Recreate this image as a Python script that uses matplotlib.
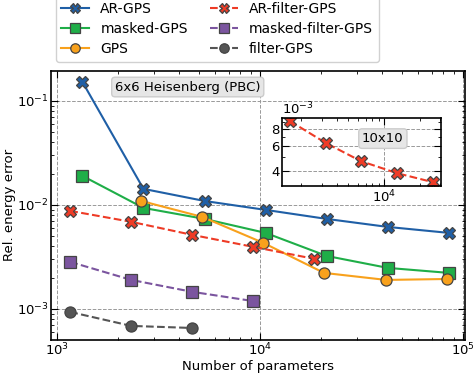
"""Relative energy error vs number of parameters, 6x6 Heisenberg with 10x10 inset"""
import matplotlib.pyplot as plt
from matplotlib.ticker import FixedLocator, NullFormatter

# main panel data
AR_X = [1330, 2660, 5320, 10640, 21280, 42560, 85120]
AR_Y = [0.152, 0.01425, 0.0109, 0.00895, 0.00733, 0.00614, 0.00538]
MASKED_X = [1330, 2660, 5320, 10640, 21280, 42560, 85120]
MASKED_Y = [0.0190, 0.00935, 0.00733, 0.00538, 0.00323, 0.00248, 0.00222]
GPS_X = [2594, 5176, 10350, 20650, 41800, 83400]
GPS_Y = [0.0109, 0.00767, 0.00432, 0.00222, 0.0019, 0.00194]
ARF_X = [1159, 2316, 4625, 9245, 18470]
ARF_Y = [0.00875, 0.00687, 0.00515, 0.00395, 0.00303]
MASKEDF_X = [1159, 2316, 4625, 9245]
MASKEDF_Y = [0.00283, 0.0019, 0.00146, 0.00119]
FILTER_X = [1159, 2316, 4625]
FILTER_Y = [0.000935, 0.000687, 0.000656]

# inset (10x10) data
INSET_X = [1611, 3245, 6400, 12870, 25880]
INSET_Y = [0.00906, 0.00631, 0.00469, 0.00385, 0.00332]

EDGE = '#444444'


def style_axes(ax):
    ax.set_xscale('log')
    ax.set_yscale('log')
    ax.tick_params(which='both', direction='in', top=True, right=True,
                   pad=1.5)
    ax.tick_params(which='major', length=5)
    ax.tick_params(which='minor', length=2.5)
    ax.grid(True, which='major', ls='--', color='#999999', lw=0.7)
    for sp in ax.spines.values():
        sp.set_linewidth(1.2)


def main():
    """Go Main Go"""
    plt.rcParams['font.size'] = 9.5
    fig = plt.figure(figsize=(4.74, 3.73), dpi=100)
    ax = fig.add_axes([0.108, 0.0885, 0.873, 0.7215])
    style_axes(ax)

    kw = dict(mec=EDGE, mew=0.9, ms=8)
    ax.plot(AR_X, AR_Y, '-X', color='#1f5fa6', label='AR-GPS', lw=1.5, **kw)
    ax.plot(MASKED_X, MASKED_Y, '-s', color='#1fae48', label='masked-GPS',
            lw=1.5, **kw)
    ax.plot(GPS_X, GPS_Y, '-o', color='#f8a11c', label='GPS', lw=1.5, **kw)
    ax.plot(ARF_X, ARF_Y, '--X', color='#ee3b26', label='AR-filter-GPS',
            lw=1.5, **kw)
    ax.plot(MASKEDF_X, MASKEDF_Y, '--s', color='#7b559f',
            label='masked-filter-GPS', lw=1.5, **kw)
    ax.plot(FILTER_X, FILTER_Y, '--o', color='#555555', label='filter-GPS',
            lw=1.5, **kw)

    ax.set_xlim(10 ** 2.97, 10 ** 5.01)
    ax.set_ylim(5.03e-4, 0.194)
    ax.set_xlabel('Number of parameters', labelpad=1)
    ax.set_ylabel('Rel. energy error', labelpad=1)
    ax.text(0.33, 0.94, '6x6 Heisenberg (PBC)', transform=ax.transAxes,
            ha='center', va='center',
            bbox=dict(boxstyle='round,pad=0.25', fc='#e6e6e6', ec='#cccccc'))

    fig.legend(loc='upper left', bbox_to_anchor=(0.118, 1.01), ncol=2,
               fontsize=10, columnspacing=1.6, labelspacing=0.45,
               borderaxespad=0.0, framealpha=0.9, markerscale=0.85)

    # inset
    ins = fig.add_axes([0.595, 0.501, 0.335, 0.182])
    style_axes(ins)
    ins.plot(INSET_X, INSET_Y, '--X', color='#ee3b26', lw=1.5, mec=EDGE,
             mew=0.9, ms=8)
    ins.set_xlim(1380, 30200)
    ins.set_ylim(3.11e-3, 9.5e-3)
    ins.yaxis.set_major_locator(FixedLocator([4e-3, 6e-3, 8e-3]))
    ins.yaxis.set_major_formatter(plt.FixedFormatter(['4', '6', '8']))
    ins.yaxis.set_minor_formatter(NullFormatter())
    ins.text(0.0, 1.02, r'$10^{-3}$', transform=ins.transAxes,
             ha='left', va='bottom')
    ins.text(0.635, 0.70, '10x10', transform=ins.transAxes,
             ha='center', va='center',
             bbox=dict(boxstyle='round,pad=0.25', fc='#e6e6e6', ec='#cccccc'))

    fig.savefig('out.png', dpi=100)


if __name__ == '__main__':
    main()
